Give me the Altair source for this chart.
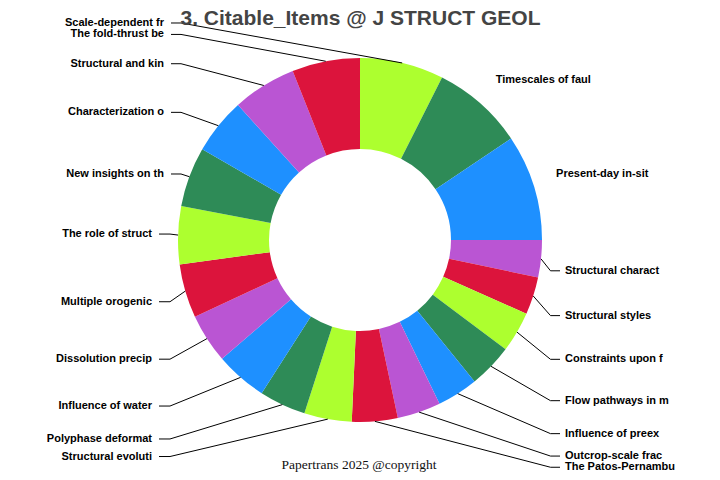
import altair as alt
import pandas as pd

# Slices, clockwise from 12 o'clock
labels = [
    "Scale-dependent fr", "Timescales of faul", "Present-day in-sit",
    "Structural charact", "Structural styles", "Constraints upon f",
    "Flow pathways in m", "Influence of preex", "Outcrop-scale frac",
    "The Patos-Pernambu", "Structural evoluti", "Polyphase deformat",
    "Influence of water", "Dissolution precip", "Multiple orogenic",
    "The role of struct", "New insights on th", "Characterization o",
    "Structural and kin", "The fold-thrust be",
]
values = [26.8, 29.3, 33.9, 11.9, 12.0, 13.0, 14.1, 13.1, 13.9, 14.6,
          15.2, 14.9, 16.6, 15.8, 17.2, 18.5, 19.1, 18.0, 20.4, 21.7]
colors = ["#ADFF2F", "#2E8B57", "#1E90FF", "#BA55D3", "#DC143C"]
title_text = "3. Citable_Items @ J STRUCT GEOL"
footer_text = "Papertrans 2025 @copyright"

df = pd.DataFrame({"label": labels, "value": values,
                   "order": list(range(1, len(labels) + 1))})

PAD_TOP = 6
W, H = 704, 464 - PAD_TOP
CX, CY = 352, 232 - PAD_TOP
R_OUT, R_IN = 182, 91

xs = alt.Scale(domain=[-CX, W - CX], nice=False, zero=False)
ys = alt.Scale(domain=[-CY, H - CY], nice=False, zero=False, reverse=True)

base = (
    alt.Chart(df)
    .transform_joinaggregate(total="sum(value)")
    .transform_window(cum="sum(value)", sort=[alt.SortField("order", order="ascending")],
                      frame=[None, 0])
    .transform_calculate(
        a0="2*PI*(datum.cum - datum.value)/datum.total",
        a1="2*PI*datum.cum/datum.total",
        span="360*datum.value/datum.total",
        ci="(datum.order - 1) % 5",
        zero="0",
    )
    .transform_calculate(mid="(datum.a0 + datum.a1)/2")
    .transform_calculate(deg="datum.mid*180/PI")
    .transform_calculate(
        side="(datum.deg > 180 || datum.deg < 20) ? 'L' : (datum.span > 25 ? 'N' : 'R')",
        upper="(datum.deg > 280 || datum.deg < 90) ? 1 : 0",
        px0=f"{R_OUT}*sin(datum.mid)",
        py0=f"-{R_OUT}*cos(datum.mid)",
    )
    .transform_calculate(
        ly="datum.side == 'R' ? -220*cos(datum.mid) + 8 : "
           "(datum.side == 'L' ? (datum.upper ? -220*cos(datum.mid) + 10.5 - (datum.deg < 20 ? 13.5 : 0) "
           ": -220*cos(datum.mid)) : -205*cos(datum.mid) - 6)",
        ex="datum.side == 'R' ? 190.5 : (datum.upper ? -179 : -190)",
        hx="datum.side == 'R' ? 200 : (datum.upper ? -189 : -201)",
        tx="datum.side == 'R' ? 205 : (datum.side == 'N' ? 205*sin(datum.mid) "
           ": (datum.upper ? -196 : -208))",
    )
)

arcs = base.mark_arc(outerRadius=R_OUT, innerRadius=R_IN).encode(
    theta=alt.Theta("value:Q", stack=True),
    order=alt.Order("order:Q"),
    color=alt.Color("ci:N", scale=alt.Scale(domain=[0, 1, 2, 3, 4], range=colors), legend=None),
    x=alt.X("zero:Q", scale=xs, axis=None),
    y=alt.Y("zero:Q", scale=ys, axis=None),
)

pushed = base.transform_filter("datum.side != 'N'")
seg1 = pushed.mark_rule(color="black", strokeWidth=1).encode(
    x=alt.X("px0:Q", scale=xs, axis=None),
    y=alt.Y("py0:Q", scale=ys, axis=None),
    x2="ex:Q", y2="ly:Q",
)
seg2 = pushed.mark_rule(color="black", strokeWidth=1).encode(
    x=alt.X("ex:Q", scale=xs, axis=None),
    y=alt.Y("ly:Q", scale=ys, axis=None),
    x2="hx:Q", y2="ly:Q",
)

lab_font = dict(font="Liberation Sans", fontSize=11, fontWeight="bold", color="black",
                baseline="middle")
txt_left = base.transform_filter("datum.side == 'L'").mark_text(align="right", **lab_font).encode(
    x=alt.X("tx:Q", scale=xs, axis=None),
    y=alt.Y("ly:Q", scale=ys, axis=None),
    text="label:N",
)
txt_right = base.transform_filter("datum.side != 'L'").mark_text(align="left", **lab_font).encode(
    x=alt.X("tx:Q", scale=xs, axis=None),
    y=alt.Y("ly:Q", scale=ys, axis=None),
    text="label:N",
)

title = alt.Chart(pd.DataFrame({"t": [title_text]})).mark_text(
    font="Liberation Sans", fontSize=21, fontWeight="bold", color="#444444",
    align="center", baseline="alphabetic"
).encode(x=alt.value(352.5), y=alt.value(17 - PAD_TOP), text="t:N")

footer = alt.Chart(pd.DataFrame({"t": [footer_text]})).mark_text(
    font="Liberation Serif", fontSize=13.5, color="#111111", align="center", baseline="middle"
).encode(x=alt.value(351), y=alt.value(457 - PAD_TOP), text="t:N")

chart = alt.layer(arcs, seg1, seg2, txt_left, txt_right, title, footer).properties(
    width=W, height=H,
    autosize=alt.AutoSizeParams(type="none"),
    padding={"left": 0, "top": PAD_TOP, "right": 0, "bottom": 0},
).configure_view(stroke=None)

chart.save("out.html", embed_options={"renderer": "svg", "actions": False})
